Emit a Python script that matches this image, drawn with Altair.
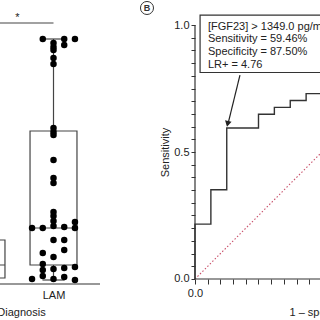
import altair as alt
import pandas as pd

# ---------------- Panel A: FGF23 by diagnosis (box + dots) ----------------
groups = ["Other", "LAM"]
group_pos = [1, 2]
q1 = [150, 475]
median = [475, 1400]
q3 = [1100, 3825]
whisk_lo = [30, 100]
whisk_hi = [2100, 6125]

lam_values = [6125, 6125, 6125, 6025, 5925, 5850, 5975, 5650, 5500,
              3900, 3800, 3725, 3100, 2650, 2525,
              1800, 1700, 1575, 1450, 1400, 1400, 1425, 1550, 1400,
              1100, 1100, 850, 775, 675,
              500, 375, 400, 425, 350, 200, 125, 125, 175, 100]
lam_cols = [-1, 1, 2, 0, 0, 0, 1, 0, 0,
            0, 0, 0, 0, 0, 0,
            0, 0, 0, 0, -2, -1, 1, 2, 2,
            0, 1, 1, -1, 0,
            -1, 0, 1, 2, -1, -1, -2, 0, 1, 2]
other_values = [1500, 1100, 900, 700, 520, 475, 400, 300, 220, 150, 90, 40]
other_cols = [0, 0, 0, -1, 0, 1, 0, -1, 0, 1, 0, -1]

sig_from = [1]
sig_to = [2]
sig_level = [6525]
sig_label = ["*"]
star_level = [6575]

# ---------------- Panel B: ROC curve ----------------
fpr = [0, 0, 1/16, 1/16, 2/16, 2/16, 4/16, 4/16, 5/16, 5/16, 6/16, 6/16,
       7/16, 7/16, 8/16, 8/16, 10/16, 10/16, 12/16, 12/16, 14/16, 14/16, 1]
tpr = [0, 8/37, 8/37, 13/37, 13/37, 22/37, 22/37, 24/37, 24/37, 25/37, 25/37, 26/37,
       26/37, 27/37, 27/37, 29/37, 29/37, 32/37, 32/37, 35/37, 35/37, 1, 1]
cut_fpr = 2/16
cut_tpr = 22/37
annot_lines = ["[FGF23] > 1349.0 pg/mL", "Sensitivity = 59.46%",
               "Specificity = 87.50%", "LR+ = 4.76"]
annot_y = [0.994, 0.944, 0.894, 0.844]
annot_x = 0.051
box_x = [0.02, 0.95]
box_y = [0.813, 1.039]
arrow_start = (0.177, 0.803)
arrow_head = (0.1285, 0.6106)
ticks = [round(i * 0.05, 2) for i in range(21)]
panel_label = ["B"]
panel_label_pos = (-0.189, 1.067)

FONT = "Liberation Sans"
DARK = "#333333"

# ---------------- scales ----------------
XL_SCALE = alt.Scale(domain=[1.2569, 5.7014], nice=False, zero=False)
YL_SCALE = alt.Scale(domain=[-900, 7100], nice=False, zero=False)
XL_AXIS = alt.Axis(orient="bottom", offset=-36, values=group_pos,
                   labelExpr="datum.value == 1 ? 'Other' : 'LAM'",
                   ticks=False, domain=False, grid=False, labelPadding=5,
                   labelFont=FONT, labelFontSize=11, labelColor="#222",
                   title="Diagnosis", titleFont=FONT, titleFontSize=11,
                   titleFontWeight="normal", titleColor="#222",
                   titleX=21, titleY=22, titleBaseline="top")


def xl(field):
    return alt.X(field, type="quantitative", scale=XL_SCALE, axis=XL_AXIS)


def yl(field):
    return alt.Y(field, type="quantitative", scale=YL_SCALE, axis=None)


XR_SCALE = alt.Scale(domain=[-0.76772, 0.49213], nice=False, zero=False)
YR_SCALE = alt.Scale(domain=[-0.16142, 1.09843], nice=False, zero=False)
LBL = "(abs(datum.value) < 0.001 || abs(datum.value - 0.5) < 0.001 || abs(datum.value - 1) < 0.001) ? format(datum.value, '.1f') : ''"
XR_AXIS = alt.Axis(orient="bottom", offset=-41, values=ticks, labelExpr=LBL,
                   domain=False, grid=False, tickSize=5, tickColor=DARK,
                   labelPadding=3, labelFont=FONT, labelFontSize=11, labelColor="#222",
                   labelFlush=False, labelOverlap=False,
                   title="1 \u2013 specificity", titleFont=FONT, titleFontSize=11,
                   titleFontWeight="normal", titleColor="#222",
                   titleX=322, titleY=27, titleBaseline="top")
YR_AXIS = alt.Axis(orient="left", offset=-195, values=ticks, labelExpr=LBL,
                   domain=False, grid=False, tickSize=4, tickColor=DARK,
                   labelPadding=2, labelFont=FONT, labelFontSize=11, labelColor="#222",
                   labelFlush=False, labelOverlap=False,
                   title="Sensitivity", titleFont=FONT, titleFontSize=11,
                   titleFontWeight="normal", titleColor="#222",
                   titleX=-25, titleY=152, titleAngle=270, titleBaseline="bottom")


def xr(field):
    return alt.X(field, type="quantitative", scale=XR_SCALE, axis=XR_AXIS)


def yr(field):
    return alt.Y(field, type="quantitative", scale=YR_SCALE, axis=YR_AXIS)


# ---------------- Panel A layers ----------------
box_df = pd.DataFrame({"group": groups, "pos": group_pos, "q1": q1, "med": median,
                       "q3": q3, "lo": whisk_lo, "hi": whisk_hi})
dots_df = pd.DataFrame({
    "value": lam_values + other_values,
    "col": lam_cols + other_cols,
    "pos": [2] * len(lam_values) + [1] * len(other_values),
})
sig_df = pd.DataFrame({"a": sig_from, "b": sig_to, "y": sig_level,
                       "label": sig_label, "ys": star_level})
baseline_df = pd.DataFrame({"a": [0.4], "b": [2.646], "y": [0]})

box_base = alt.Chart(box_df).transform_calculate(
    left="datum.pos - 0.326", right="datum.pos + 0.326",
    capl="datum.pos - 0.153", capr="datum.pos + 0.153")

boxes = box_base.mark_rect(fill="white", stroke="#444", strokeWidth=1.2).encode(
    x=xl("left:Q"), x2="right:Q", y=yl("q1:Q"), y2="q3:Q")
whisk_up = box_base.mark_rule(color="#444", strokeWidth=1.2).encode(
    x=xl("pos:Q"), y=yl("q3:Q"), y2="hi:Q")
whisk_dn = box_base.mark_rule(color="#444", strokeWidth=1.2).encode(
    x=xl("pos:Q"), y=yl("q1:Q"), y2="lo:Q")
cap_up = box_base.mark_rule(color="#444", strokeWidth=1.2).encode(
    x=xl("capl:Q"), x2="capr:Q", y=yl("hi:Q"))
cap_dn = box_base.mark_rule(color="#444", strokeWidth=1.2).encode(
    x=xl("capl:Q"), x2="capr:Q", y=yl("lo:Q"))
med_line = box_base.mark_rule(color="#444", strokeWidth=1.2).encode(
    x=xl("left:Q"), x2="right:Q", y=yl("med:Q"))

dots = alt.Chart(dots_df).transform_calculate(
    xpos="datum.pos + datum.col * 0.149").mark_circle(
    size=42, color="black", opacity=1).encode(x=xl("xpos:Q"), y=yl("value:Q"))

sig_bar = alt.Chart(sig_df).mark_rule(color="#444", strokeWidth=1.2).encode(
    x=xl("a:Q"), x2="b:Q", y=yl("y:Q"))
sig_star = alt.Chart(sig_df).transform_calculate(mid="(datum.a + datum.b) / 2").mark_text(
    font=FONT, fontSize=11, color="#222", baseline="alphabetic").encode(
    x=xl("mid:Q"), y=yl("ys:Q"), text="label:N")

base_line = alt.Chart(baseline_df).mark_rule(color="#333", strokeWidth=1.2).encode(
    x=xl("a:Q"), x2="b:Q", y=yl("y:Q"))

panel_a = alt.layer(boxes, whisk_up, whisk_dn, cap_up, cap_dn, med_line,
                    dots, sig_bar, sig_star, base_line)

# ---------------- Panel B layers ----------------
roc_df = pd.DataFrame({"fpr": fpr, "tpr": tpr, "order": list(range(len(fpr)))})
diag_df = pd.DataFrame({"x": [0, 1], "y": [0, 1]})
axes_df = pd.DataFrame({"z": [0], "one": [1]})
box_df2 = pd.DataFrame({"x1": [box_x[0]], "x2": [box_x[1]], "y1": [box_y[0]], "y2": [box_y[1]]})
text_df = pd.DataFrame({"x": [annot_x] * len(annot_lines), "y": annot_y, "t": annot_lines})
arrow_df = pd.DataFrame({"x1": [arrow_start[0]], "y1": [arrow_start[1]],
                         "x2": [cut_fpr + 0.004], "y2": [cut_tpr + 0.012]})
head_df = pd.DataFrame({"x": [arrow_head[0]], "y": [arrow_head[1]]})
lab_df = pd.DataFrame({"x": [panel_label_pos[0]], "y": [panel_label_pos[1]], "t": panel_label})

diag = alt.Chart(diag_df).mark_line(color="#c8506a", strokeWidth=1.1,
                                    strokeDash=[1.5, 2]).encode(x=xr("x:Q"), y=yr("y:Q"))
roc = alt.Chart(roc_df).mark_line(color=DARK, strokeWidth=1.4).encode(
    x=xr("fpr:Q"), y=yr("tpr:Q"), order="order:Q")
x_axis_line = alt.Chart(axes_df).mark_rule(color=DARK, strokeWidth=1.2).encode(
    x=xr("z:Q"), x2="one:Q", y=yr("z:Q"))
y_axis_line = alt.Chart(axes_df).mark_rule(color=DARK, strokeWidth=1.2).encode(
    x=xr("z:Q"), y=yr("z:Q"), y2="one:Q")
annot_box = alt.Chart(box_df2).mark_rect(fill="white", stroke=DARK, strokeWidth=1.2).encode(
    x=xr("x1:Q"), x2="x2:Q", y=yr("y1:Q"), y2="y2:Q")
annot_text = alt.Chart(text_df).mark_text(font=FONT, fontSize=11, color="#222",
                                          align="left", baseline="middle").encode(
    x=xr("x:Q"), y=yr("y:Q"), text="t:N")
arrow = alt.Chart(arrow_df).mark_rule(color="#222", strokeWidth=1.2).encode(
    x=xr("x1:Q"), x2="x2:Q", y=yr("y1:Q"), y2="y2:Q")
head = alt.Chart(head_df).mark_point(shape="triangle-up", size=45, filled=True,
                                     color="#222", opacity=1, angle=193).encode(
    x=xr("x:Q"), y=yr("y:Q"))
lab_circle = alt.Chart(lab_df).mark_point(shape="circle", size=170, filled=False,
                                          color="#333", strokeWidth=1, opacity=1).encode(
    x=xr("x:Q"), y=yr("y:Q"))
lab_text = alt.Chart(lab_df).mark_text(font=FONT, fontSize=9, fontWeight="bold",
                                       color="#333", baseline="middle").encode(
    x=xr("x:Q"), y=yr("y:Q"), text="t:N")

panel_b = alt.layer(diag, roc, x_axis_line, y_axis_line, annot_box, annot_text,
                    arrow, head, lab_circle, lab_text)

chart = alt.layer(panel_a, panel_b).resolve_scale(
    x="independent", y="independent").resolve_axis(
    x="independent", y="independent").properties(
    width=320, height=320, autosize=alt.AutoSizeParams(type="none"),
    padding=0, background="white").configure_view(stroke=None)

chart.save("out.html", embed_options={"renderer": "svg", "actions": False})
